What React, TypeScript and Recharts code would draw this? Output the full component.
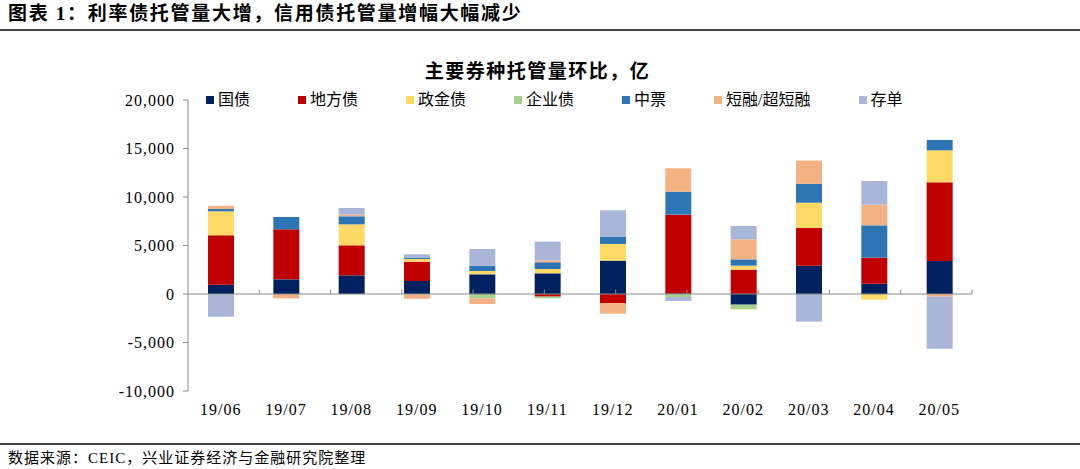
import React from 'react';
import { BarChart, Bar, XAxis, YAxis, ReferenceLine } from 'recharts';

const CATEGORIES = ['19/06', '19/07', '19/08', '19/09', '19/10', '19/11', '19/12', '20/01', '20/02', '20/03', '20/04', '20/05'];

// 亿元
const GUOZHAI = [960, 1510, 1920, 1340, 2030, 2130, 3440, 60, -1100, 2920, 1060, 3400];
const DIFANGZHAI = [5090, 5160, 3100, 1990, 0, -270, -930, 8120, 2510, 3880, 2690, 8110];
const ZHENGJINZHAI = [2470, 0, 2160, 280, 340, 450, 1720, 0, 410, 2610, -580, 3300];
const QIYEZHAI = [-40, 0, 0, -40, -450, -170, 0, -310, -480, 0, 0, 0];
const ZHONGPIAO = [240, 1270, 830, 100, 550, 690, 720, 2370, 650, 1960, 3330, 1070];
const DUANRONG = [340, -450, 170, -450, -580, 200, -1100, 2410, 2070, 2380, 2130, -280];
const CUNDAN = [-2300, 0, 690, 380, 1720, 1930, 2750, -410, 1370, -2850, 2440, -5370];

const Y_TICKS = [-10000, -5000, 0, 5000, 10000, 15000, 20000];

const SERIES = [
  { key: 'gz', name: '国债', color: '#002060', values: GUOZHAI },
  { key: 'df', name: '地方债', color: '#C00000', values: DIFANGZHAI },
  { key: 'zj', name: '政金债', color: '#FFD966', values: ZHENGJINZHAI },
  { key: 'qy', name: '企业债', color: '#A9D18E', values: QIYEZHAI },
  { key: 'zp', name: '中票', color: '#2E75B6', values: ZHONGPIAO },
  { key: 'dr', name: '短融/超短融', color: '#F4B183', values: DUANRONG },
  { key: 'cd', name: '存单', color: '#A9B6DA', values: CUNDAN },
];

const data = CATEGORIES.map((cat, i) => {
  const row: Record<string, any> = { cat };
  SERIES.forEach((s) => {
    row[s.key] = s.values[i];
  });
  return row;
});

const SERIF = '"Liberation Serif", "Times New Roman", "Noto Sans CJK SC", serif';
const AXIS_GRAY = '#8a8a8a';

export default function App() {
  return (
    <div style={{ position: 'absolute', left: 0, top: 0, width: 1080, height: 469, background: '#fff', fontFamily: SERIF }}>
      <div style={{ position: 'absolute', left: 8, top: 3, fontSize: 19, fontWeight: 'bold', letterSpacing: 1.7, lineHeight: '22px', color: '#000' }}>
        图表 1：利率债托管量大增，信用债托管量增幅大幅减少
      </div>
      <div style={{ position: 'absolute', left: 0, top: 29, width: 1080, height: 2, background: '#444' }} />
      <div style={{ position: 'absolute', left: 0, top: 56, width: 1075, textAlign: 'center', fontSize: 19, fontWeight: 'bold', letterSpacing: 1.5, color: '#000' }}>
        主要券种托管量环比，亿
      </div>

      <div style={{ position: 'absolute', left: 0, top: 0 }}>
        <BarChart
          width={1080}
          height={469}
          data={data}
          stackOffset="sign"
          margin={{ top: 100, right: 108, bottom: 48, left: 0 }}
        >
          <XAxis
            dataKey="cat"
            axisLine={false}
            tickLine={false}
            height={30}
            tickMargin={7}
            tick={{ fontFamily: SERIF, fontSize: 16, fill: '#000', letterSpacing: 1 }}
          />
          <XAxis xAxisId="grid" type="number" domain={[0, CATEGORIES.length]} hide />
          <YAxis
            width={188}
            domain={[-10000, 20000]}
            ticks={Y_TICKS}
            interval={0}
            tickFormatter={(v: number) => v.toLocaleString('en-US')}
            axisLine={{ stroke: AXIS_GRAY }}
            tickLine={{ stroke: AXIS_GRAY }}
            tickSize={5}
            tickMargin={8}
            tick={{ fontFamily: SERIF, fontSize: 16, fill: '#000', letterSpacing: 1 }}
          />
          {SERIES.map((s) => (
            <Bar key={s.key} dataKey={s.key} name={s.name} stackId="a" fill={s.color} barSize={26} isAnimationActive={false} />
          ))}
          <ReferenceLine y={0} stroke={AXIS_GRAY} strokeWidth={1} />
          {CATEGORIES.map((c, i) => (
            <ReferenceLine
              key={c}
              xAxisId="grid"
              segment={[{ x: i + 1, y: 0 }, { x: i + 1, y: 450 }]}
              stroke={AXIS_GRAY}
              strokeWidth={1}
            />
          ))}
        </BarChart>
      </div>

      {/* legend sits inside the plot area, level with the top tick */}
      <div style={{ position: 'absolute', top: 90, left: 206, display: 'flex', gap: 48, fontSize: 16, lineHeight: '20px', color: '#000' }}>
        {SERIES.map((s) => (
          <div key={s.key} style={{ display: 'flex', alignItems: 'center' }}>
            <span style={{ display: 'inline-block', width: 8, height: 8, background: s.color, marginRight: 4 }} />
            <span>{s.name}</span>
          </div>
        ))}
      </div>

      <div style={{ position: 'absolute', left: 0, top: 443, width: 1080, height: 2, background: '#444' }} />
      <div style={{ position: 'absolute', left: 8, top: 448, fontSize: 15, letterSpacing: 1, lineHeight: '20px', color: '#000' }}>
        数据来源：CEIC，兴业证券经济与金融研究院整理
      </div>
    </div>
  );
}
